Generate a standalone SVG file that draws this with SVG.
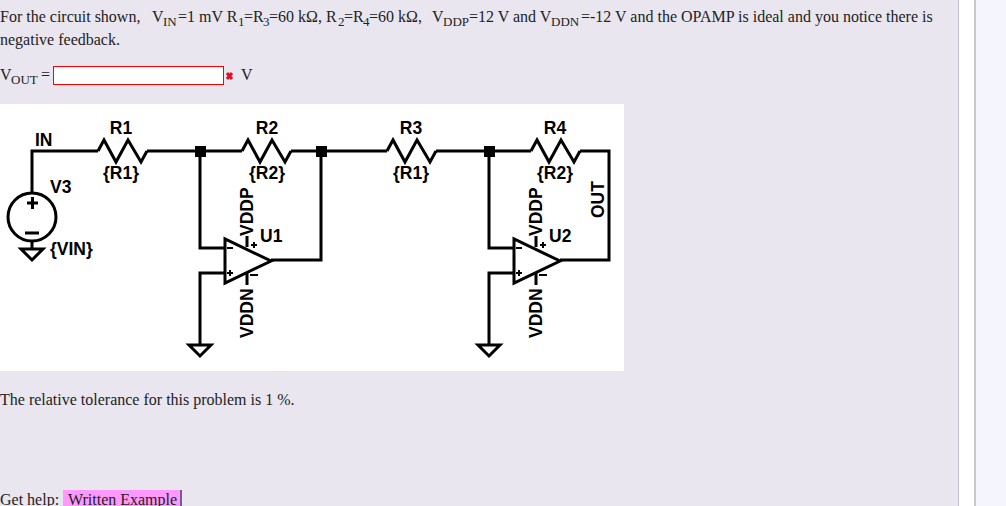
<svg xmlns="http://www.w3.org/2000/svg" width="1006" height="506" viewBox="0 0 1006 506">
<style>
.t{font-family:"Liberation Serif","Times New Roman",serif;font-size:16px;fill:#222}
.s{font-size:13px}
.l{font-family:"Liberation Sans",Arial,sans-serif;font-size:17.500px;font-weight:bold;fill:#000}
.w{fill:none;stroke:#000;stroke-width:3;stroke-linejoin:miter}
.th{fill:none;stroke:#000;stroke-width:2}
</style>
<defs>
<path id="res" d="M0 0L6 -11L18 11L30 -11L43 11L49 0" class="w"/>
<path id="gnd" d="M-11 0H11L0 11Z" class="w"/>
<g id="amp">
<path d="M0 0V44L46 22Z" class="w"/>
<path d="M22 -3V8M22 34V46" class="w"/>
<path d="M2 9H8M2 34H8M5 31V37M26 6H32M29 3V9M25 36H33" class="th"/>
</g>
</defs>
<rect width="1006" height="506" fill="#e9e6f0"/>
<rect x="958" width="1" height="506" fill="#c2c2e0"/>
<rect x="959" width="15" height="506" fill="#fff"/>
<rect x="974" width="2" height="506" fill="#c8c8c8"/>
<rect x="976" width="30" height="506" fill="#f5f5fd"/>
<rect y="104" width="624" height="267" fill="#fff"/>
<g id="question">
<text class="t" y="22"><tspan x="0">For the circuit shown,</tspan><tspan x="152">V</tspan><tspan x="163" dy="4" class="s">IN</tspan><tspan x="178" dy="-4">=1 mV R</tspan><tspan x="238" dy="4" class="s">1</tspan><tspan x="244" dy="-4">=R</tspan><tspan x="263" dy="4" class="s">3</tspan><tspan x="269" dy="-4">=60 kΩ, R</tspan><tspan x="338" dy="4" class="s">2</tspan><tspan x="344" dy="-4">=R</tspan><tspan x="363" dy="4" class="s">4</tspan><tspan x="369" dy="-4">=60 kΩ,</tspan><tspan x="432">V</tspan><tspan x="443" dy="4" class="s">DDP</tspan><tspan x="469" dy="-4">=12 V and V</tspan><tspan x="551" dy="4" class="s">DDN</tspan><tspan x="581" dy="-4">=-12 V and the OPAMP is ideal and you notice there is</tspan></text>
<text class="t" x="0" y="45">negative feedback.</text>
</g>
<g id="answer">
<text class="t" y="80"><tspan x="0">V</tspan><tspan x="11" dy="4" class="s">OUT</tspan><tspan x="41" dy="-4">=</tspan></text>
<rect x="53.500" y="66.500" width="170" height="18" fill="#fff" stroke="#f00"/>
<path d="M227 73L232 79M232 73L227 79" stroke="#e01020" stroke-width="3" fill="none"/>
<text class="t" x="241" y="80">V</text>
</g>
<g id="connectors">
<path class="w" d="M98 151H32V193"/>
<path class="w" d="M32 241V249"/>
<path class="w" d="M147 151H242M291 151H387M436 151H531M580 151H609V260H560"/>
<path class="w" d="M200 151V248H225M200 345V273H225"/>
<path class="w" d="M321 151V260H271"/>
<path class="w" d="M489 151V248H514M489 345V273H514"/>
</g>
<g id="V3">
<circle cx="32" cy="217" r="24" class="w"/>
<path class="w" d="M27 203H38M32.500 197V209M25 233H39"/>
<use href="#gnd" x="32" y="249"/>
<text class="l" x="50" y="193">V3</text>
<text class="l" x="50" y="255">{VIN}</text>
<text class="l" x="35" y="146">IN</text>
</g>
<g id="R1"><use href="#res" x="98" y="151"/><text class="l" x="121" y="134" text-anchor="middle">R1</text><text class="l" x="121" y="179" text-anchor="middle">{R1}</text></g>
<g id="R2"><use href="#res" x="242" y="151"/><text class="l" x="267" y="134" text-anchor="middle">R2</text><text class="l" x="267" y="179" text-anchor="middle">{R2}</text></g>
<g id="R3"><use href="#res" x="387" y="151"/><text class="l" x="411" y="134" text-anchor="middle">R3</text><text class="l" x="411" y="179" text-anchor="middle">{R1}</text></g>
<g id="R4"><use href="#res" x="531" y="151"/><text class="l" x="555" y="134" text-anchor="middle">R4</text><text class="l" x="555" y="179" text-anchor="middle">{R2}</text></g>
<g id="J1"><rect x="195" y="146" width="11" height="11"/></g>
<g id="J2"><rect x="316" y="146" width="11" height="11"/></g>
<g id="J3"><rect x="484" y="146" width="11" height="11"/></g>
<g id="U1">
<use href="#amp" x="225" y="239"/>
<text class="l" x="260" y="242">U1</text>
<text class="l" transform="translate(253 236) rotate(-90)">VDDP</text>
<text class="l" transform="translate(253 338) rotate(-90)">VDDN</text>
</g>
<g id="U2">
<use href="#amp" x="514" y="239"/>
<text class="l" x="549" y="242">U2</text>
<text class="l" transform="translate(542 236) rotate(-90)">VDDP</text>
<text class="l" transform="translate(542 338) rotate(-90)">VDDN</text>
</g>
<g id="G1"><use href="#gnd" x="200" y="345"/></g>
<g id="G2"><use href="#gnd" x="489" y="345"/></g>
<g id="OUT"><text class="l" transform="translate(604 218) rotate(-90)">OUT</text></g>
<g id="footer">
<text class="t" x="0" y="405">The relative tolerance for this problem is 1 %.</text>
<text class="t" x="0" y="505">Get help:</text>
<rect x="63" y="490" width="118" height="16" fill="#ff99ff"/>
<rect x="180" y="490" width="2" height="16" fill="#7a5a8a"/>
<text class="t" x="68" y="505">Written Example</text>
</g>
</svg>
